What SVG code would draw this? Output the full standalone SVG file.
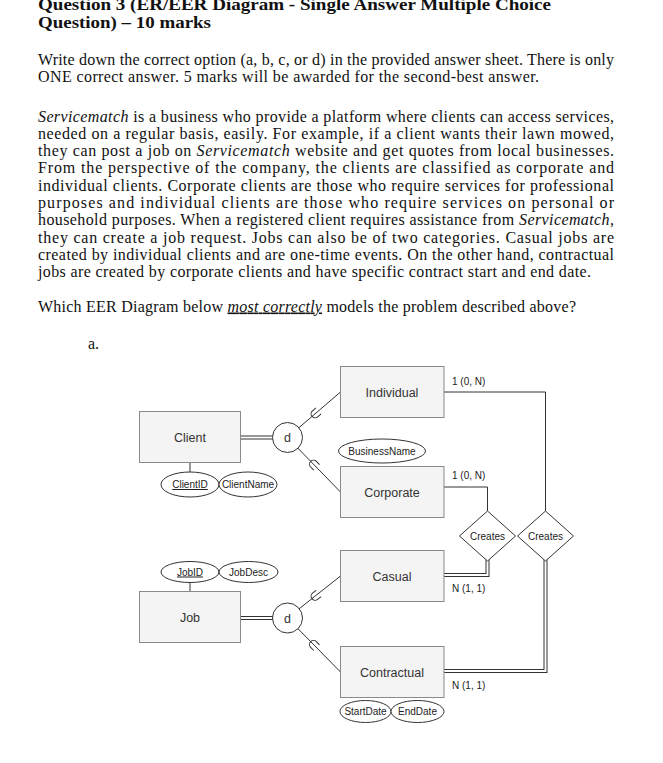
<svg xmlns="http://www.w3.org/2000/svg" width="663" height="763" viewBox="0 0 663 763">
<defs>
<style>
.doc{font-family:"Liberation Serif","Times New Roman",serif;font-size:16px;fill:#111;}
.ttl{font-family:"Liberation Serif","Times New Roman",serif;font-size:17px;font-weight:bold;fill:#111;}
.it{font-style:italic;}
.ent{fill:#f4f4f4;stroke:#8a8a8a;stroke-width:1;}
.et{font-family:"Liberation Sans",Arial,sans-serif;font-size:12.5px;fill:#333;text-anchor:middle;}
.at{font-family:"Liberation Sans",Arial,sans-serif;font-size:10px;fill:#222;text-anchor:middle;}
.lb{font-family:"Liberation Sans",Arial,sans-serif;font-size:10px;fill:#222;}
.atr{fill:#fff;stroke:#333;stroke-width:1;}
.ln{fill:none;stroke:#333;stroke-width:1;}
.dbo{fill:none;stroke:#333;stroke-width:4;}
.dbi{fill:none;stroke:#fff;stroke-width:2;}
.circ{fill:#fff;stroke:#333;stroke-width:1;}
.dia{fill:#fff;stroke:#333;stroke-width:1;}
</style>
<path id="sub" d="M4.5,-4 H0 A4,4 0 0 0 0,4 H4.5" fill="none" stroke="#333" stroke-width="1"/>
</defs>
<rect width="663" height="763" fill="#fff"/>

<g id="text">
<text class="ttl" x="38" y="10" textLength="513" lengthAdjust="spacingAndGlyphs">Question 3 (ER/EER Diagram - Single Answer Multiple Choice</text>
<text class="ttl" x="38" y="27.5" textLength="173" lengthAdjust="spacingAndGlyphs">Question) – 10 marks</text>
<text class="doc" x="38" y="64.5" textLength="576" lengthAdjust="spacing">Write down the correct option (a, b, c, or d) in the provided answer sheet. There is only</text>
<text class="doc" x="38" y="81.5" textLength="501" lengthAdjust="spacing">ONE correct answer. 5 marks will be awarded for the second-best answer.</text>
<text class="doc" x="38" y="121.5" textLength="576" lengthAdjust="spacing"><tspan class="it">Servicematch</tspan> is a business who provide a platform where clients can access services,</text>
<text class="doc" x="38" y="138.8" textLength="576" lengthAdjust="spacing">needed on a regular basis, easily. For example, if a client wants their lawn mowed,</text>
<text class="doc" x="38" y="156.1" textLength="576" lengthAdjust="spacing">they can post a job on <tspan class="it">Servicematch</tspan> website and get quotes from local businesses.</text>
<text class="doc" x="38" y="173.4" textLength="576" lengthAdjust="spacing">From the perspective of the company, the clients are classified as corporate and</text>
<text class="doc" x="38" y="190.7" textLength="576" lengthAdjust="spacing">individual clients. Corporate clients are those who require services for professional</text>
<text class="doc" x="38" y="208" textLength="576" lengthAdjust="spacing">purposes and individual clients are those who require services on personal or</text>
<text class="doc" x="38" y="225.3" textLength="576" lengthAdjust="spacing">household purposes. When a registered client requires assistance from <tspan class="it">Servicematch</tspan>,</text>
<text class="doc" x="38" y="242.6" textLength="576" lengthAdjust="spacing">they can create a job request. Jobs can also be of two categories. Casual jobs are</text>
<text class="doc" x="38" y="259.9" textLength="576" lengthAdjust="spacing">created by individual clients and are one-time events. On the other hand, contractual</text>
<text class="doc" x="38" y="277.2" textLength="553" lengthAdjust="spacing">jobs are created by corporate clients and have specific contract start and end date.</text>
<text class="doc" x="38" y="311.5" textLength="538" lengthAdjust="spacing">Which EER Diagram below <tspan class="it" text-decoration="underline">most correctly</tspan> models the problem described above?</text>
<text class="doc" x="88" y="349">a.</text>
</g>

<g id="connectors">
<path class="dbo" d="M241,437.5 H280"/>
<path class="dbi" d="M241,437.5 H280"/>
<path class="dbo" d="M241,618 H280"/>
<path class="dbi" d="M241,618 H280"/>
<path class="ln" d="M287.5,437.5 L340.5,392"/>
<path class="ln" d="M287.5,437.5 L340.5,492"/>
<path class="ln" d="M287.5,618 L340.5,576"/>
<path class="ln" d="M287.5,618 L340.5,672"/>
<use href="#sub" transform="translate(315.1,413.8) rotate(-40.6)"/>
<use href="#sub" transform="translate(313.5,464.2) rotate(45.8)"/>
<use href="#sub" transform="translate(315.1,596.2) rotate(-38.4)"/>
<use href="#sub" transform="translate(313.5,644.5) rotate(45.5)"/>
<path class="ln" d="M190,462.5 V472"/>
<path class="ln" d="M190,582.5 V591.5"/>
<path class="ln" d="M444,392 H545.5 V511"/>
<path class="ln" d="M444,487 H487.5 V511"/>
<path class="dbo" d="M444,575 H487.5 V558"/>
<path class="dbi" d="M444,575 H487.5 V558"/>
<path class="dbo" d="M444,671 H545.5 V558"/>
<path class="dbi" d="M444,671 H545.5 V558"/>
<text class="lb" x="452" y="384.5">1 (0, N)</text>
<text class="lb" x="452" y="478.5">1 (0, N)</text>
<text class="lb" x="452" y="591.5">N (1, 1)</text>
<text class="lb" x="452" y="689">N (1, 1)</text>
</g>

<g id="client">
<rect class="ent" x="139.5" y="411.5" width="101" height="51"/>
<text class="et" x="190" y="442">Client</text>
</g>
<g id="clientid">
<ellipse class="atr" cx="190" cy="484.5" rx="29" ry="12.5"/>
<text class="at" x="190" y="488" text-decoration="underline">ClientID</text>
</g>
<g id="clientname">
<ellipse class="atr" cx="248" cy="484.5" rx="29" ry="12.5"/>
<text class="at" x="248" y="488">ClientName</text>
</g>
<g id="disjoint-client">
<circle class="circ" cx="287.5" cy="437.5" r="15"/>
<text class="et" x="287.5" y="442" font-size="12">d</text>
</g>
<g id="individual">
<rect class="ent" x="340.5" y="366.5" width="103.5" height="51"/>
<text class="et" x="392" y="396.5">Individual</text>
</g>
<g id="businessname">
<ellipse class="atr" cx="382" cy="451" rx="43.5" ry="12"/>
<text class="at" x="382" y="454.5">BusinessName</text>
</g>
<g id="corporate">
<rect class="ent" x="340.5" y="466.5" width="103.5" height="51"/>
<text class="et" x="392" y="496.5">Corporate</text>
</g>
<g id="creates1">
<polygon class="dia" points="487.5,511 515.5,536 487.5,561 459.5,536"/>
<text class="at" x="487.5" y="539.5">Creates</text>
</g>
<g id="creates2">
<polygon class="dia" points="545.5,511 573.5,536 545.5,561 517.5,536"/>
<text class="at" x="545.5" y="539.5">Creates</text>
</g>
<g id="jobid">
<ellipse class="atr" cx="190" cy="572" rx="29" ry="10.5"/>
<text class="at" x="190" y="575.5" text-decoration="underline">JobID</text>
</g>
<g id="jobdesc">
<ellipse class="atr" cx="248.5" cy="572" rx="29.5" ry="10.5"/>
<text class="at" x="248.5" y="575.5">JobDesc</text>
</g>
<g id="job">
<rect class="ent" x="139.5" y="591.5" width="101" height="51"/>
<text class="et" x="190" y="622">Job</text>
</g>
<g id="disjoint-job">
<circle class="circ" cx="287.5" cy="618" r="15"/>
<text class="et" x="287.5" y="622.5" font-size="12">d</text>
</g>
<g id="casual">
<rect class="ent" x="340.5" y="550.5" width="103.5" height="51"/>
<text class="et" x="392" y="580.5">Casual</text>
</g>
<g id="contractual">
<rect class="ent" x="340.5" y="646.5" width="103.5" height="51"/>
<text class="et" x="392" y="676.5">Contractual</text>
</g>
<g id="startdate">
<ellipse class="atr" cx="365.5" cy="711.5" rx="25.5" ry="11"/>
<text class="at" x="365.5" y="715">StartDate</text>
</g>
<g id="enddate">
<ellipse class="atr" cx="417.5" cy="711.5" rx="26.5" ry="11"/>
<text class="at" x="417.5" y="715">EndDate</text>
</g>
</svg>
